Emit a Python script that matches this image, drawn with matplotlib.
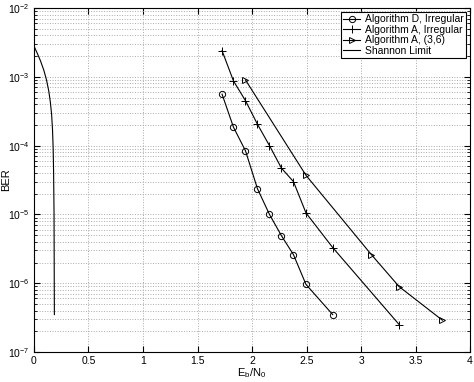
import numpy as np
import matplotlib
matplotlib.use("Agg")
import matplotlib.pyplot as plt
from matplotlib.ticker import LogLocator, NullFormatter

plt.rcParams['font.family'] = ['Liberation Sans', 'DejaVu Sans']
plt.rcParams['mathtext.default'] = 'regular'

# Algorithm D, Irregular
alg_d_x = [1.725, 1.83, 1.94, 2.05, 2.16, 2.27, 2.38, 2.495, 2.74]
alg_d_ber = [5.6e-4, 1.85e-4, 8.4e-5, 2.36e-5, 1.0e-5, 4.9e-6, 2.6e-6, 9.6e-7, 3.5e-7]

# Algorithm A, Irregular
alg_a_x = [1.725, 1.83, 1.94, 2.05, 2.16, 2.27, 2.38, 2.495, 2.74, 3.35]
alg_a_ber = [2.4e-3, 8.7e-4, 4.5e-4, 2.04e-4, 1.0e-4, 4.7e-5, 3.0e-5, 1.05e-5, 3.3e-6, 2.5e-7]

# Algorithm A, (3,6)
reg_x = [1.94, 2.495, 3.095, 3.35, 3.746]
reg_ber = [9.0e-4, 3.7e-5, 2.6e-6, 8.9e-7, 2.9e-7]

# Shannon limit
shannon_x = [0, 0.03, 0.06, 0.09, 0.115, 0.135, 0.15, 0.162, 0.17, 0.176, 0.18, 0.184, 0.186, 0.187]
shannon_ber = [2.8e-3, 2.2e-3, 1.7e-3, 1.25e-3, 9.0e-4, 6.3e-4, 4.3e-4, 2.8e-4,
               1.7e-4, 9e-5, 4e-5, 1e-5, 1e-6, 3.5e-7]

fig = plt.figure(figsize=(4.74, 3.82), dpi=100)
ax = fig.add_axes([0.0717, 0.0785, 0.92, 0.9005])

lw = 0.8
ax.semilogy(alg_d_x, alg_d_ber, '-o', color='black', lw=lw, mfc='none', ms=4.5, mew=0.7,
            label='Algorithm D, Irregular')
ax.semilogy(alg_a_x, alg_a_ber, '-+', color='black', lw=lw, ms=6, mew=0.7,
            label='Algorithm A, Irregular')
ax.semilogy(reg_x, reg_ber, '->', color='black', lw=lw, mfc='none', ms=5, mew=0.7,
            label='Algorithm A, (3,6)')
ax.semilogy(shannon_x, shannon_ber, '-', color='black', lw=lw, label='Shannon Limit')

ax.set_xlim(0, 4)
ax.set_ylim(1e-7, 1e-2)
ax.set_xticks(np.arange(0, 4.01, 0.5))
ax.set_xticklabels(['0', '0.5', '1', '1.5', '2', '2.5', '3', '3.5', '4'])
ax.yaxis.set_major_locator(LogLocator(base=10, numticks=10))
ax.yaxis.set_minor_locator(LogLocator(base=10, subs=np.arange(2, 10), numticks=10))
ax.yaxis.set_minor_formatter(NullFormatter())

ax.grid(True, which='major', axis='both', ls=':', color='#aaaaaa', lw=0.7)
ax.grid(True, which='minor', axis='y', ls=':', color='#aaaaaa', lw=0.7)

ax.tick_params(which='both', direction='in', top=True, right=True, labelsize=7.5, colors='black')
ax.tick_params(which='major', length=4, pad=3)
ax.tick_params(which='minor', length=2)
for s in ax.spines.values():
    s.set_linewidth(0.8)

ax.set_xlabel(r'E$_b$/N$_0$', fontsize=8, labelpad=0)
ax.set_ylabel('BER', fontsize=8)
ax.yaxis.set_label_coords(-0.052, 0.5)

leg = ax.legend(loc='upper right', fontsize=7.5, fancybox=False, framealpha=1,
                edgecolor='black', handlelength=1.6, borderpad=0.25, labelspacing=0.05,
                handletextpad=0.5, borderaxespad=0.35)
leg.get_frame().set_linewidth(0.8)

fig.savefig('out.png', dpi=100)
